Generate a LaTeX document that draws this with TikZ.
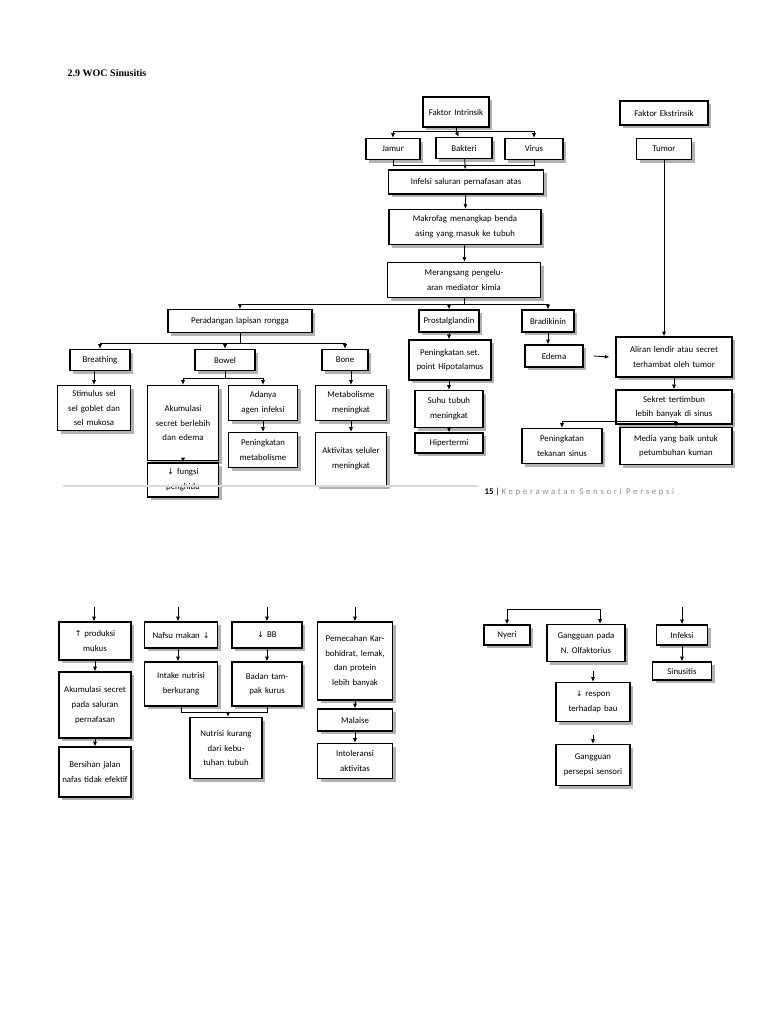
\documentclass[tikz,border=0pt]{standalone}
\usepackage{fontspec}
\setmainfont{Carlito}
\newfontfamily\dv{DejaVu Sans}
\newfontfamily\tms{Liberation Serif}
\usetikzlibrary{arrows.meta,shadows}
\newcommand\ar[1]{{\dv\fontsize{6}{8}\selectfont #1}}
\newcommand\bx[5]{\node[box,minimum width={#3*0.75pt},minimum height={#4*0.75pt},text width={(#3-6)*0.75pt}] (#1) at (#2) {#5};}
\begin{document}
\begin{tikzpicture}[x=0.75pt,y=-0.75pt,
  box/.style={draw,line width=0.9pt,fill=white,align=center,inner sep=1pt,font=\fontsize{6.6}{11}\selectfont,
    drop shadow={shadow xshift=2.5pt,shadow yshift=-2.5pt,fill=black!30,opacity=1}},
  arr/.style={-{Latex[length=3.5pt,width=3pt]},line width=0.6pt},
  ln/.style={line width=0.6pt}]
\useasboundingbox (0,0) rectangle (768,1024);
\node[anchor=west,font=\tms\bfseries\fontsize{7.5}{9}\selectfont] (title) at (63,73) {2.9 WOC Sinusitis};
% top
\bx{fi}{456,112}{66}{30}{Faktor Intrinsik}
\bx{fe}{664,113}{88}{24}{Faktor Ekstrinsik}
\bx{jam}{393,149}{54}{21}{Jamur}
\bx{bak}{464,148}{56}{21}{Bakteri}
\bx{vir}{534,149}{58}{21}{Virus}
\bx{tum}{664,149}{55}{21}{Tumor}
\bx{isa}{466,182}{155}{24}{Infelsi saluran pernafasan atas}
\bx{mak}{465,227}{152}{35}{Makrofag menangkap benda asing yang masuk ke tubuh}
\bx{mer}{464,280}{153}{35}{Merangsang pengeluaran mediator kimia}
\bx{per}{240,321}{144}{23}{Peradangan lapisan rongga}
\bx{pro}{449,321}{60}{22}{Prostalglandin}
\bx{bra}{548,321}{52}{22}{Bradikinin}
\bx{bre}{100,360}{60}{21}{Breathing}
\bx{bow}{225,360}{60}{21}{Bowel}
\bx{bon}{345,360}{46}{21}{Bone}
\bx{sti}{94,408}{73}{45}{Stimulus sel sel goblet dan sel mukosa}
\bx{aku}{183,423}{71}{75}{Akumulasi secret berlebih dan edema}
\bx{ada}{263,403}{69}{35}{Adanya agen infeksi}
\bx{met}{351,403}{71}{35}{Metabolisme meningkat}
\bx{pme}{263,450}{69}{35}{Peningkatan metabolisme}
\bx{akt}{351,459}{71}{53}{Aktivitas seluler meningkat}
\bx{fun}{183,480}{71}{34}{\ar{↓} fungsi penghidu}
\bx{pse}{450,360}{82}{40}{Peningkatan set. point Hipotalamus}
\bx{suh}{449,409}{68}{37}{Suhu tubuh meningkat}
\bx{hip}{449,443}{68}{20}{Hipertermi}
\bx{ede}{554,356}{58}{22}{Edema}
\bx{ali}{674,357}{116}{40}{Aliran lendir atau secret terhambat oleh tumor}
\bx{sek}{674,407}{116}{34}{Sekret tertimbun lebih banyak di sinus}
\bx{pte}{562,446}{80}{35}{Peningkatan tekanan sinus}
\bx{med}{676,446}{112}{37}{Media yang baik untuk petumbuhan kuman}
% top connectors
\coordinate (c1) at (456,131);
\draw[ln] (fi) -- (c1); \draw[ln] (c1-|jam) -- (c1-|vir);
\draw[arr] (c1-|jam) -- (jam); \draw[arr] (c1) -- (bak); \draw[arr] (c1-|vir) -- (vir);
\coordinate (c2) at (464,165);
\draw[ln] (jam.south) -- (jam.south|-c2) -- (vir.south|-c2) -- (vir.south);
\draw[arr] (bak) -- (isa);
\draw[arr] (isa) -- (mak);
\draw[arr] (mak) -- (mer);
\coordinate (c3) at (464,304);
\draw[ln] (mer) -- (c3); \draw[ln] (c3-|per) -- (c3-|bra);
\draw[arr] (c3-|per) -- (per); \draw[arr] (c3) -- (c3-|pro) -- (pro); \draw[arr] (c3-|bra) -- (bra);
\coordinate (c4) at (240,343);
\draw[ln] (per) -- (c4); \draw[ln] (c4-|bre) -- (c4-|bon);
\draw[arr] (c4-|bre) -- (bre); \draw[arr] (c4-|bow) -- (bow); \draw[arr] (c4-|bon) -- (bon);
\draw[arr] (bre) -- (sti|-bre.south) -- (sti);
\coordinate (c5) at (225,378);
\draw[ln] (bow) -- (c5); \draw[ln] (c5-|aku) -- (c5-|ada);
\draw[arr] (c5-|aku) -- (aku); \draw[arr] (c5-|ada) -- (ada);
\draw[arr] (bon.south-|met) -- (met);
\draw[arr] (aku) -- (fun);
\draw[arr] (ada) -- (pme);
\draw[arr] (met) -- (akt);
\draw[arr] (pro) -- (pse.north-|pro);
\draw[arr] (pse.south-|suh) -- (suh);
\draw[arr] (suh) -- (hip);
\draw[arr] (bra) -- (bra|-ede.north);
\draw[arr] ([xshift=7.5pt]ede.east) -- ([xshift=-4.5pt]ali.west);
\draw[arr] (tum) -- (tum|-ali.north);
\draw[arr] (ali) -- (sek);
\coordinate (c6) at (674,421);
\draw[ln] (c6-|pte) -- (c6);
\draw[arr] (c6-|pte) -- (pte); \draw[arr] (c6) -- (c6-|med) -- (med);
% footer
\draw[black!15,line width=0.8pt] (63,486) -- (478,486);
\node[anchor=west,font=\fontsize{6.6}{8}\selectfont] (foot) at (480,492) {\textbf{15} | {\color{black!45}\addfontfeature{LetterSpace=30}Keperawatan Sensori Persepsi}};
% bottom
\bx{pmu}{95,641}{72}{38}{\ar{↑} produksi mukus}
\bx{asp}{95,705}{72}{66}{Akumulasi secret pada saluran pernafasan}
\bx{ber}{95,772}{72}{50}{Bersihan jalan nafas tidak efektif}
\bx{naf}{181,635}{73}{26}{Nafsu makan \ar{↓}}
\bx{bb}{267,635}{70}{26}{\ar{↓} BB}
\bx{int}{181,684}{73}{44}{Intake nutrisi berkurang}
\bx{bad}{267,684}{70}{44}{Badan tampak kurus}
\bx{nut}{226,748}{72}{61}{Nutrisi kurang dari kebutuhan tubuh}
\bx{pem}{355,661}{75}{78}{Pemecahan Karbohidrat, lemak, dan protein lebih banyak}
\bx{mal}{355,720}{75}{22}{Malaise}
\bx{ito}{355,761}{75}{35}{Intoleransi aktivitas}
\bx{nye}{507,635}{46}{20}{Nyeri}
\bx{gol}{586,643}{78}{37}{Gangguan pada N. Olfaktorius}
\bx{res}{593,702}{74}{39}{\ar{↓} respon terhadap bau}
\bx{gps}{593,765}{74}{41}{Gangguan persepsi sensori}
\bx{inf}{682,635}{51}{20}{Infeksi}
\bx{sin}{682,671}{59}{18}{Sinusitis}
\coordinate (d1) at (94,607); \coordinate (d2) at (178,607); \coordinate (d3) at (267,607);
\coordinate (d4) at (355,607); \coordinate (d5) at (682,607);
\draw[arr] (d1) -- (d1|-pmu.north);
\draw[arr] (d2) -- (d2|-naf.north);
\draw[arr] (d3) -- (d3|-bb.north);
\draw[arr] (d4) -- (d4|-pem.north);
\draw[arr] (d5) -- (d5|-inf.north);
\draw[arr] (pmu) -- (asp);
\draw[arr] (asp) -- (ber);
\draw[arr] (naf.south-|d2) -- (d2|-int.north);
\draw[arr] (bb) -- (bad);
\coordinate (e1) at (228,712);
\draw[ln] (int.south) -- (int.south|-e1) -- (bad.south|-e1) -- (bad.south);
\draw[arr] (e1) -- (e1|-nut.north);
\draw[arr] (pem) -- (mal);
\draw[arr] (mal) -- (ito);
\coordinate (f1) at (507,609); \coordinate (f2) at (600,609);
\draw[ln] (f1) -- (f2);
\draw[arr] (f1) -- (nye); \draw[arr] (f2) -- (f2|-gol.north);
\draw[arr] ([yshift=-7pt]gol.south-|res) -- (res);
\draw[arr] ([yshift=-10pt]res.south) -- (gps);
\draw[arr] (inf) -- (sin);
\end{tikzpicture}
\end{document}
